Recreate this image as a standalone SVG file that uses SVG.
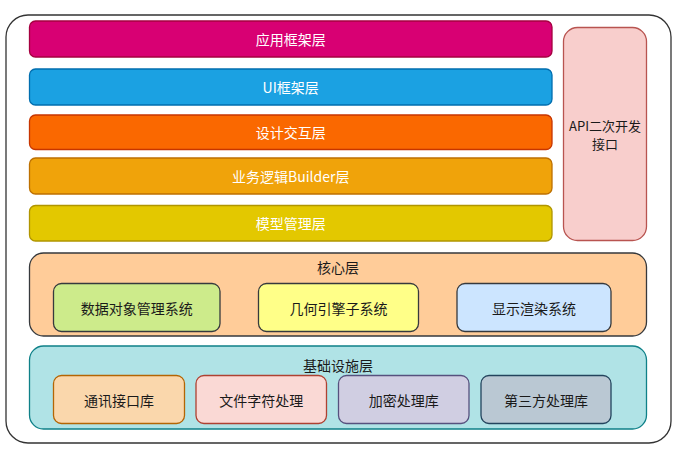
<svg xmlns="http://www.w3.org/2000/svg" width="682" height="449" viewBox="0 0 682 449">
<style>
text{font-family:"Microsoft YaHei","Noto Sans CJK SC","Liberation Sans",sans-serif;font-size:14px;text-anchor:middle;dominant-baseline:central}
.w{fill:#ffffff}
.d{fill:#1a1a1a}
.s{font-size:13px}
rect{stroke-width:1.3}
</style>
<rect x="0" y="0" width="682" height="449" fill="#ffffff"/>
<g id="outer"><rect x="6" y="15" width="665" height="428" rx="22" fill="#ffffff" stroke="#333333" stroke-width="1.5"/></g>
<g id="app"><rect x="29.5" y="21" width="522.5" height="36" rx="6" fill="#d80073" stroke="#a50040"/><text class="w" x="290.7" y="39">应用框架层</text></g>
<g id="ui"><rect x="29.5" y="69" width="522.5" height="36" rx="6" fill="#1ba1e2" stroke="#006eaf"/><text class="w" x="290.7" y="87">UI框架层</text></g>
<g id="design"><rect x="29.5" y="115" width="522.5" height="34.5" rx="6" fill="#fa6800" stroke="#c73500"/><text class="w" x="290.7" y="132">设计交互层</text></g>
<g id="logic"><rect x="29.5" y="158" width="522.5" height="36" rx="6" fill="#f0a30a" stroke="#bd7000"/><text class="w" x="290.7" y="176">业务逻辑Builder层</text></g>
<g id="model"><rect x="29.5" y="205.5" width="522.5" height="35.5" rx="6" fill="#e3c800" stroke="#b09500"/><text class="w" x="290.7" y="223">模型管理层</text></g>
<g id="api"><rect x="563.5" y="27.5" width="83" height="213" rx="14" fill="#f8cecc" stroke="#b85450"/><text class="d s" x="605" y="125.5">API二次开发</text><text class="d s" x="605" y="143.5">接口</text></g>
<g id="core"><rect x="29.5" y="253" width="617" height="83" rx="14" fill="#ffcc99" stroke="#36393d"/><text class="d" x="338" y="267">核心层</text></g>
<g id="data"><rect x="53.5" y="283.5" width="166.5" height="48" rx="8" fill="#cdeb8b" stroke="#36393d"/><text class="d" x="136.7" y="308">数据对象管理系统</text></g>
<g id="geom"><rect x="258.5" y="283.5" width="160" height="48" rx="8" fill="#ffff88" stroke="#36393d"/><text class="d" x="338.5" y="308">几何引擎子系统</text></g>
<g id="render"><rect x="457" y="283.5" width="154" height="48" rx="8" fill="#cce5ff" stroke="#36393d"/><text class="d" x="534" y="308">显示渲染系统</text></g>
<g id="base"><rect x="29.5" y="346" width="617" height="83" rx="14" fill="#b0e3e6" stroke="#0e8088"/><text class="d" x="338" y="365">基础设施层</text></g>
<g id="comm"><rect x="53.5" y="375.5" width="131" height="48" rx="8" fill="#fad7ac" stroke="#b46504"/><text class="d" x="119" y="400">通讯接口库</text></g>
<g id="file"><rect x="196" y="375.5" width="130.5" height="48" rx="8" fill="#fad9d5" stroke="#ae4132"/><text class="d" x="261.2" y="400">文件字符处理</text></g>
<g id="crypto"><rect x="338.5" y="375.5" width="130.5" height="48" rx="8" fill="#d0cee2" stroke="#56517e"/><text class="d" x="403.7" y="400">加密处理库</text></g>
<g id="third"><rect x="481" y="375.5" width="130" height="48" rx="8" fill="#bac8d3" stroke="#23445d"/><text class="d" x="546" y="400">第三方处理库</text></g>
<g id="connectors"></g>
</svg>
